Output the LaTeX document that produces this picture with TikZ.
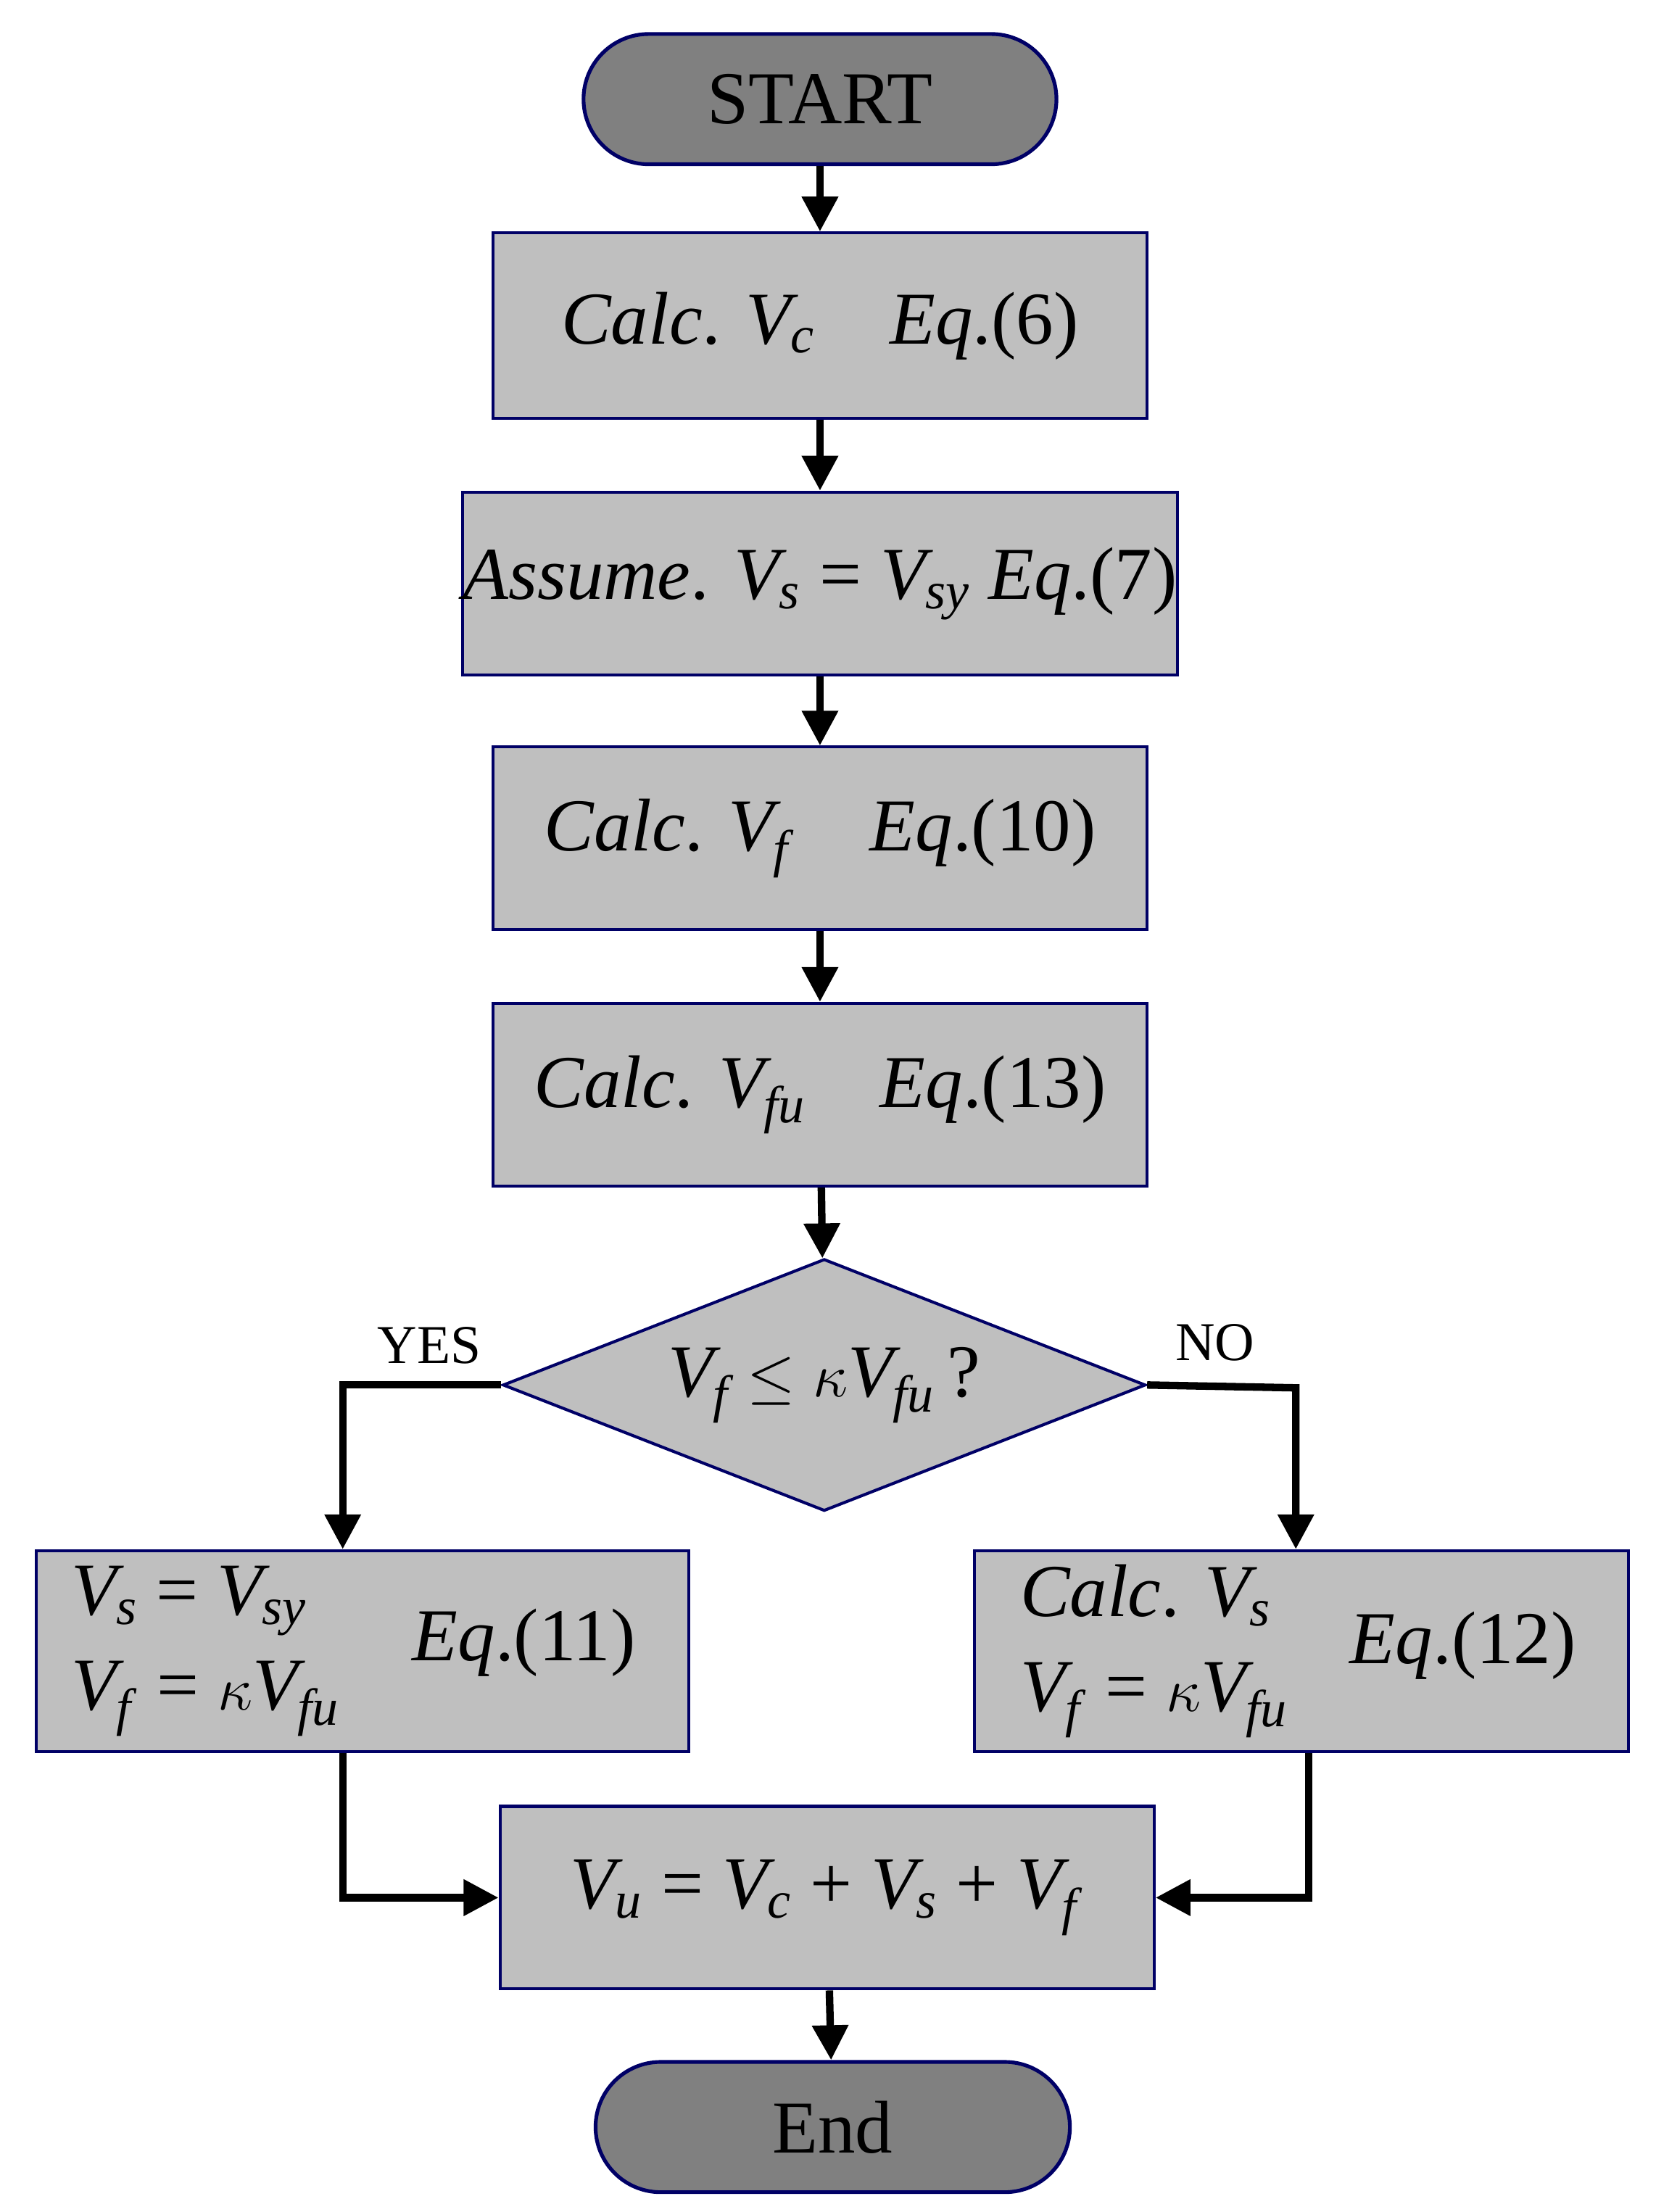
\documentclass[tikz,border=0pt]{standalone}
\usepackage{fontspec}
\setmainfont{Liberation Serif}
\usetikzlibrary{shapes.geometric,arrows.meta}
\newcommand{\Vv}[1]{\textit{V}\textsubscript{\kern-0.15em\textit{#1}}}
\begin{document}
\begin{tikzpicture}[x=0.02cm,y=-0.02cm,
 box/.style={draw=blue!40!black,line width=1.2pt,fill=black!25,inner sep=0pt,font=\fontsize{30}{34}\selectfont},
 term/.style={draw=blue!40!black,line width=1.5pt,fill=black!50,rounded corners=0.92cm,inner sep=0pt,font=\fontsize{30}{34}\selectfont},
 arr/.style={line width=3pt,-{Triangle[length=14pt,width=14pt]}},
 lab/.style={font=\fontsize{22}{26}\selectfont}]
\useasboundingbox (0,0) rectangle (1169,1562);
\node[term,minimum width=6.68cm,minimum height=1.84cm] (start) at (579,70) {START};
\node[box,minimum width=9.24cm,minimum height=2.62cm] (b1) at (579,230) {\textit{Calc}. \Vv{c}\quad\textit{Eq}.(6)};
\node[box,minimum width=9.24cm,minimum height=2.58cm] (b2) at (579,412) {\textit{Assume}. \Vv{s} = \Vv{sy}\ \textit{Eq}.(7)};
\node[box,minimum width=9.24cm,minimum height=2.58cm] (b3) at (579,592) {\textit{Calc}. \Vv{f}\quad\textit{Eq}.(10)};
\node[box,minimum width=9.24cm,minimum height=2.58cm] (b4) at (579,773) {\textit{Calc}. \Vv{fu}\quad\textit{Eq}.(13)};
\node[box,diamond,aspect=2.55,minimum width=9.08cm,minimum height=3.56cm,inner sep=0pt] (d) at (582,978) {\Vv{f}\,$\leq\kappa$\Vv{fu}\,?};
\node[box,minimum width=9.22cm,minimum height=2.84cm] (l) at (256,1166) {};
\node[font=\fontsize{30}{34}\selectfont,align=left] at (145,1166) {\Vv{s} = \Vv{sy}\\[4pt] \Vv{f} = $\kappa$\Vv{fu}};
\node[font=\fontsize{30}{34}\selectfont] at (370,1160) {\textit{Eq}.(11)};
\node[box,minimum width=9.24cm,minimum height=2.84cm] (r) at (919,1166) {};
\node[font=\fontsize{30}{34}\selectfont,align=left] at (815,1166) {\textit{Calc}. \Vv{s}\\[4pt] \Vv{f} = $\kappa$\Vv{fu}};
\node[font=\fontsize{30}{34}\selectfont] at (1033,1162) {\textit{Eq}.(12)};
\node[box,minimum width=9.24cm,minimum height=2.58cm] (vu) at (584,1340) {\Vv{u} = \Vv{c} + \Vv{s} + \Vv{f}};
\node[term,minimum width=6.7cm,minimum height=1.84cm] (end) at (588,1502) {End};
\node[lab] at (303,950) {YES};
\node[lab] at (858,948) {NO};
\coordinate (lc) at (242,978);
\coordinate (rc) at (915,980);
\draw[arr] (start) -- (b1);
\draw[arr] (b1) -- (b2);
\draw[arr] (b2) -- (b3);
\draw[arr] (b3) -- (b4);
\draw[arr] (b4) -- (d);
\draw[arr] (d.west) -- (lc) -- (l.north -| lc);
\draw[arr] (d.east) -- (rc) -- (r.north -| rc);
\draw[arr] (l.south -| lc) |- (vu.west);
\draw[arr] (r.south -| 924,0) |- (vu.east);
\draw[arr] (vu) -- (end);
\end{tikzpicture}
\end{document}
